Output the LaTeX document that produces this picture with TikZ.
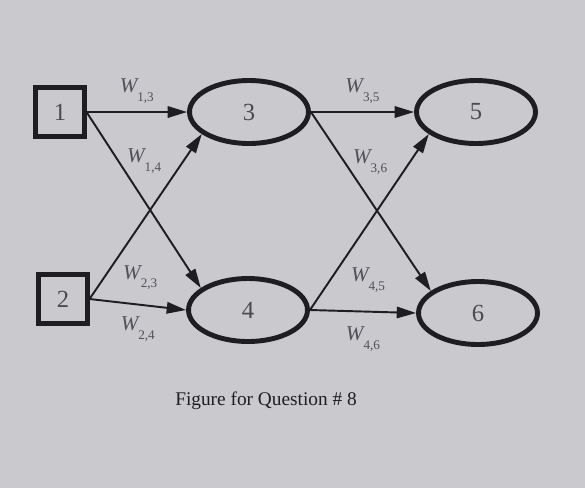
\documentclass[tikz,border=0pt]{standalone}
\usepackage{fontspec}
\setmainfont{Liberation Serif}
\usetikzlibrary{shapes.geometric,arrows.meta}
\definecolor{paper}{RGB}{201,201,206}
\definecolor{ink}{RGB}{30,30,34}
\definecolor{wgray}{RGB}{80,80,86}
\newcommand{\wt}[1]{{\itshape W}\raisebox{-5pt}{\fontsize{7.5}{8}\selectfont #1}}
\tikzset{
	inbox/.style={draw=ink,line width=2.3pt,minimum size=0.98cm,inner sep=0pt,font=\fontsize{14}{16}\selectfont,text=ink!80},
	unit/.style={ellipse,draw=ink,line width=2.8pt,minimum width=2.38cm,minimum height=1.26cm,inner sep=0pt,font=\fontsize{14}{16}\selectfont,text=ink!80},
	wlab/.style={font=\fontsize{12}{14}\selectfont,text=wgray}
}

\begin{document}
\begin{tikzpicture}[x=0.02cm,y=-0.02cm,>={Triangle[length=11pt,width=6.5pt]}]
\fill[paper] (0,0) rectangle (585,488);
\path (60,112) node[inbox](n1) {1}
		(63,299) node[inbox](n2) {2}
		(249,112) node[unit](n3) {3}
		(248,310) node[unit](n4) {4}
		(476,112) node[unit](n5) {5}
		(478,313) node[unit](n6) {6}
		(266,401) node[font=\fontsize{11}{13}\selectfont,text=ink](cap) {Figure for Question \# 8}
		;
	\draw[line width=1.1pt,->,ink] (node cs:name=n1,anchor=east) -- (node cs:name=n3,anchor=west)
		node[midway,above=1pt,wlab]{\wt{1,3}};
	\draw[line width=1.1pt,->,ink] (node cs:name=n1,anchor=east) -- (node cs:name=n4,angle=155)
		node[pos=0.28,right=1pt,wlab]{\wt{1,4}};
	\draw[line width=1.1pt,->,ink] (node cs:name=n2,anchor=east) -- (node cs:name=n3,angle=205)
		node[pos=0.13,right=7pt,wlab]{\wt{2,3}};
	\draw[line width=1.1pt,->,ink] (node cs:name=n2,anchor=east) -- (node cs:name=n4,anchor=west)
		node[midway,below=3pt,wlab]{\wt{2,4}};
	\draw[line width=1.1pt,->,ink] (node cs:name=n3,anchor=east) -- (node cs:name=n5,anchor=west)
		node[midway,above=1pt,wlab]{\wt{3,5}};
	\draw[line width=1.1pt,->,ink] (node cs:name=n3,anchor=east) -- (node cs:name=n6,angle=155)
		node[pos=0.28,right=1pt,wlab]{\wt{3,6}};
	\draw[line width=1.1pt,->,ink] (node cs:name=n4,anchor=east) -- (node cs:name=n5,angle=205)
		node[pos=0.17,right=8pt,wlab]{\wt{4,5}};
	\draw[line width=1.1pt,->,ink] (node cs:name=n4,anchor=east) -- (node cs:name=n6,anchor=west)
		node[midway,below=5pt,wlab]{\wt{4,6}};
\end{tikzpicture}
\end{document}
